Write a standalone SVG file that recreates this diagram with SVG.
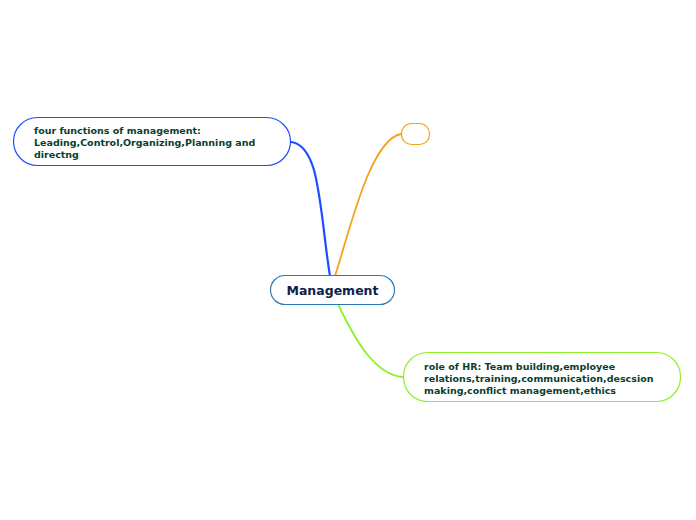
<svg xmlns="http://www.w3.org/2000/svg" width="696" height="520" viewBox="0 0 696 520">
<style>
.t{font-family:Verdana,"DejaVu Sans",sans-serif;font-weight:bold;font-size:9.5px;fill:#0b3d2e}
.c{fill:none;stroke-linecap:round}
</style>
<rect width="696" height="520" fill="#fff"/>
<g id="connectors">
<path class="c" d="M330,276 C324,240 322,200 314,170 C308,150 300,143 291,142" stroke="#1a4fff" stroke-width="2.2"/>
<path class="c" d="M335,276 C350,230 370,140 401,134" stroke="#f5a11c" stroke-width="1.8"/>
<path class="c" d="M338,304 C355,340 375,375 403,377" stroke="#8ef02a" stroke-width="1.8"/>
</g>
<g id="center">
<rect x="270.5" y="275.5" width="124" height="29" rx="14.5" fill="#fff" stroke="#2a7ab8" stroke-width="1.2"/>
<text x="332.5" y="295" text-anchor="middle" style="font-family:Verdana,'DejaVu Sans',sans-serif;font-weight:bold;font-size:12.5px;fill:#0d1f4a">Management</text>
</g>
<g id="left">
<rect x="13.5" y="117.5" width="277" height="48" rx="24" fill="#fff" stroke="#1a4fff" stroke-width="1.2"/>
<text class="t" x="34" y="134">four functions of management:</text>
<text class="t" x="34" y="146">Leading,Control,Organizing,Planning and</text>
<text class="t" x="34" y="158">directng</text>
</g>
<g id="orange">
<rect x="401.5" y="123.5" width="28" height="21" rx="10" fill="#fff" stroke="#f5a11c" stroke-width="1.2"/>
</g>
<g id="right">
<rect x="403.5" y="352.5" width="277" height="49" rx="24" fill="#fff" stroke="#8ef02a" stroke-width="1.2"/>
<text class="t" x="424" y="370">role of HR: Team building,employee</text>
<text class="t" x="424" y="382">relations,training,communication,descsion</text>
<text class="t" x="424" y="394">making,conflict management,ethics</text>
</g>
</svg>
